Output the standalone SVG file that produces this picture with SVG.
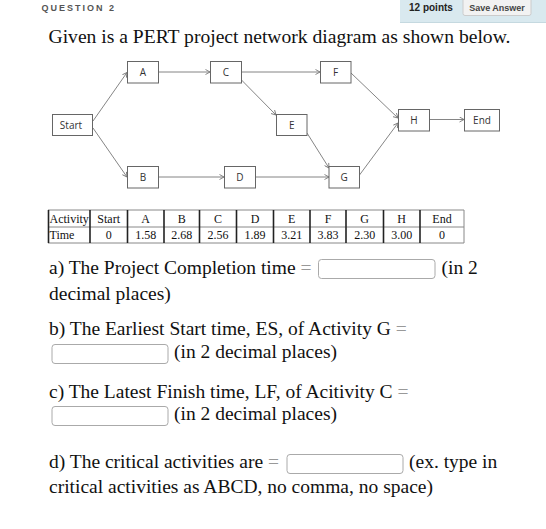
<svg xmlns="http://www.w3.org/2000/svg" width="546" height="529" viewBox="0 0 546 529">
<style>
.hdr{font-family:"Liberation Sans",Arial,sans-serif;font-weight:bold;}
.node rect{fill:#fff;stroke:#666;stroke-width:1;}
.node text{font-family:"Open Sans","Liberation Sans",sans-serif;font-size:10px;fill:#333;text-anchor:middle;}
.edge{stroke:#777;stroke-width:0.9;fill:none;marker-end:url(#arr);}
.tb{font-family:"Liberation Serif","Times New Roman",serif;font-size:12px;fill:#111;text-anchor:middle;}
.tl{text-anchor:start;}
.q{font-family:"Liberation Serif","Times New Roman",serif;font-size:19.5px;fill:#111;}
.title{font-size:19.6px;}
.eq{fill:#999;}
.box{fill:#fff;stroke:#aaa;stroke-width:1;}
.hl{stroke:#888;stroke-width:1;}
.vl{stroke:#222;stroke-width:1.6;}
</style>
<defs>
<marker id="arr" markerWidth="6" markerHeight="6" refX="5" refY="3" orient="auto" markerUnits="userSpaceOnUse">
<path d="M0.5,0.5 L5,3 L0.5,5.5" fill="none" stroke="#777" stroke-width="0.9"/>
</marker>
</defs>
<rect width="546" height="529" fill="#fff"/>
<g id="header">
<rect x="400" y="0" width="146" height="23" fill="#d9e9ef"/>
<line x1="400" y1="22.5" x2="546" y2="22.5" stroke="#c5d9e0"/>
<text class="hdr" x="41.5" y="10.5" font-size="9" fill="#555" letter-spacing="2">QUESTION 2</text>
<text class="hdr" x="409" y="11" font-size="10" fill="#222">12 points</text>
<rect x="463" y="-2" width="68" height="17.5" rx="2" fill="#f2f2f2" stroke="#ccc"/>
<text class="hdr" x="497" y="11" font-size="9" fill="#444" text-anchor="middle">Save Answer</text>
</g>
<text class="q title" x="48.5" y="43">Given is a PERT project network diagram as shown below.</text>
<g id="connectors">
<line class="edge" x1="93" y1="121" x2="127" y2="72.5"/>
<line class="edge" x1="93" y1="128" x2="127" y2="177"/>
<line class="edge" x1="158" y1="72" x2="210" y2="72"/>
<line class="edge" x1="241.5" y1="80" x2="276" y2="115"/>
<line class="edge" x1="241.5" y1="72" x2="320" y2="72"/>
<line class="edge" x1="158" y1="177" x2="224" y2="177"/>
<line class="edge" x1="255" y1="177" x2="329" y2="177"/>
<line class="edge" x1="307" y1="133" x2="329" y2="168"/>
<line class="edge" x1="351" y1="73" x2="398" y2="118"/>
<line class="edge" x1="359.5" y1="175" x2="398" y2="123"/>
<line class="edge" x1="429.5" y1="119.5" x2="464" y2="119.5"/>
</g>
<g id="node-start" class="node"><rect x="52.5" y="114.5" width="40" height="21"/><text x="71" y="129">Start</text></g>
<g id="node-a" class="node"><rect x="127.5" y="61.5" width="31" height="21.5"/><text x="143" y="76">A</text></g>
<g id="node-c" class="node"><rect x="210.5" y="61.5" width="31" height="21.5"/><text x="226" y="76">C</text></g>
<g id="node-f" class="node"><rect x="320.5" y="61.5" width="30.5" height="21.5"/><text x="335.7" y="76">F</text></g>
<g id="node-e" class="node"><rect x="276.5" y="114.5" width="30.5" height="21"/><text x="291.7" y="129">E</text></g>
<g id="node-h" class="node"><rect x="398.5" y="109.5" width="31" height="21.5"/><text x="414" y="124">H</text></g>
<g id="node-end" class="node"><rect x="464.5" y="109.5" width="35" height="21.5"/><text x="482" y="124">End</text></g>
<g id="node-b" class="node"><rect x="127.5" y="166.5" width="31" height="21.5"/><text x="143" y="181">B</text></g>
<g id="node-d" class="node"><rect x="224.5" y="166.5" width="31" height="21.5"/><text x="240" y="181">D</text></g>
<g id="node-g" class="node"><rect x="329" y="166.5" width="30.5" height="21.5"/><text x="344.2" y="181">G</text></g>
<g id="table">
<line class="hl" x1="48" y1="210" x2="464" y2="210"/>
<line class="hl" x1="48" y1="227" x2="464" y2="227"/>
<line class="hl" x1="48" y1="243" x2="464" y2="243"/>
<line class="vl" x1="48.5" y1="210" x2="48.5" y2="243"/>
<line class="vl" x1="90" y1="210" x2="90" y2="243"/>
<line class="vl" x1="127.5" y1="210" x2="127.5" y2="243"/>
<line class="vl" x1="164" y1="210" x2="164" y2="243"/>
<line class="vl" x1="199.5" y1="210" x2="199.5" y2="243"/>
<line class="vl" x1="236.5" y1="210" x2="236.5" y2="243"/>
<line class="vl" x1="273.5" y1="210" x2="273.5" y2="243"/>
<line class="vl" x1="310" y1="210" x2="310" y2="243"/>
<line class="vl" x1="346" y1="210" x2="346" y2="243"/>
<line class="vl" x1="383.5" y1="210" x2="383.5" y2="243"/>
<line class="vl" x1="420" y1="210" x2="420" y2="243"/>
<line x1="464" y1="210" x2="464" y2="243" stroke="#888"/>
<text class="tb tl" x="49.5" y="222.5">Activity</text>
<text class="tb" x="108.7" y="222.5">Start</text>
<text class="tb" x="145.7" y="222.5">A</text>
<text class="tb" x="181.7" y="222.5">B</text>
<text class="tb" x="218" y="222.5">C</text>
<text class="tb" x="255" y="222.5">D</text>
<text class="tb" x="291.7" y="222.5">E</text>
<text class="tb" x="328" y="222.5">F</text>
<text class="tb" x="364.7" y="222.5">G</text>
<text class="tb" x="401.7" y="222.5">H</text>
<text class="tb" x="442" y="222.5">End</text>
<text class="tb tl" x="49.5" y="238.5">Time</text>
<text class="tb" x="108.7" y="238.5">0</text>
<text class="tb" x="145.7" y="238.5">1.58</text>
<text class="tb" x="181.7" y="238.5">2.68</text>
<text class="tb" x="218" y="238.5">2.56</text>
<text class="tb" x="255" y="238.5">1.89</text>
<text class="tb" x="291.7" y="238.5">3.21</text>
<text class="tb" x="328" y="238.5">3.83</text>
<text class="tb" x="364.7" y="238.5">2.30</text>
<text class="tb" x="401.7" y="238.5">3.00</text>
<text class="tb" x="442" y="238.5">0</text>
</g>
<g id="questions">
<text class="q" x="49" y="273.5">a) The Project Completion time <tspan class="eq">=</tspan></text>
<rect class="box" x="318.5" y="259.5" width="116.5" height="19" rx="3"/>
<text class="q" x="441.5" y="273.5">(in 2</text>
<text class="q" x="49" y="300">decimal places)</text>
<text class="q" x="49" y="335">b) The Earliest Start time, ES, of Activity G <tspan class="eq">=</tspan></text>
<rect class="box" x="52" y="344.5" width="116" height="19" rx="3"/>
<text class="q" x="174" y="358">(in 2 decimal places)</text>
<text class="q" x="49" y="398">c) The Latest Finish time, LF, of Acitivity C <tspan class="eq">=</tspan></text>
<rect class="box" x="52" y="406.5" width="116" height="19" rx="3"/>
<text class="q" x="174" y="420">(in 2 decimal places)</text>
<text class="q" x="49" y="468">d) The critical activities are <tspan class="eq">=</tspan></text>
<rect class="box" x="287" y="454.5" width="116" height="19" rx="3"/>
<text class="q" x="409" y="468">(ex. type in</text>
<text class="q" x="49" y="493">critical activities as ABCD, no comma, no space)</text>
</g>
</svg>
